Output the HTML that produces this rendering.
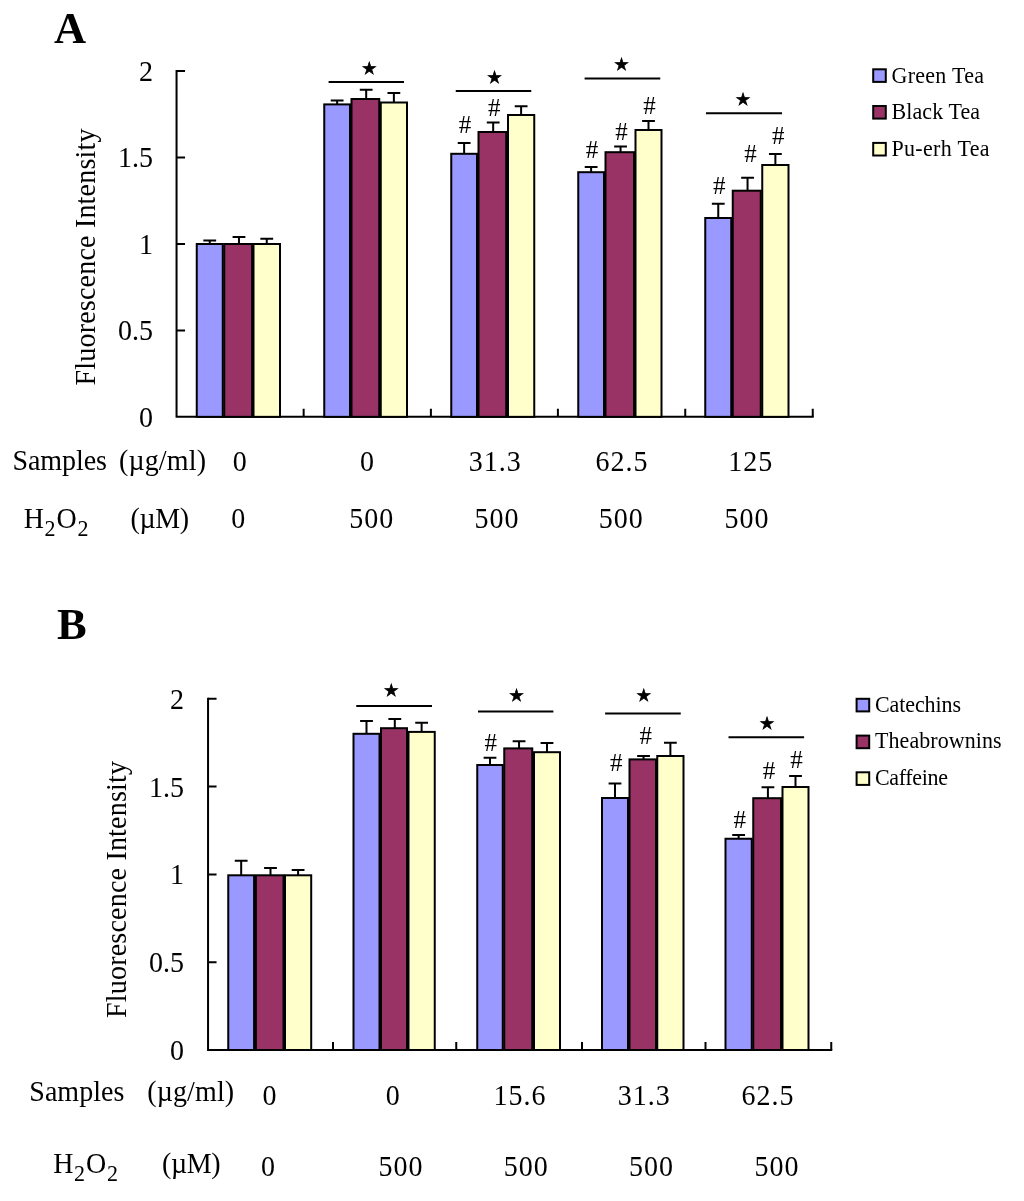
<!DOCTYPE html>
<html lang="en"><head><meta charset="utf-8"><title>Figure</title>
<style>
html,body{margin:0;padding:0;background:#fff}
svg{display:block}
text{font-family:'Liberation Serif', serif;fill:#000}
.t28{font-size:28px}
.t22{font-size:22px}
.num{letter-spacing:1px}
.sub{font-size:22px}
.big{font-size:44.5px;font-weight:bold}
.star{font-family:'DejaVu Sans',sans-serif;font-size:16.8px;text-anchor:middle;stroke:#000;stroke-width:.7}
.hash{font-size:25px;text-anchor:middle}
.ln{fill:none;stroke:#000;stroke-width:2}
.bar{stroke:#000;stroke-width:2}
</style></head><body>
<svg width="1024" height="1201" viewBox="0 0 1024 1201">
<rect width="1024" height="1201" fill="#fff"/>
<g class="ln">
<path d="M176.55 70V417.85M175.55 416.85H813.75"/>
<path d="M176.55 71h8.5M176.55 157.46h8.5M176.55 243.93h8.5M176.55 330.39h8.5M303.65 416.85v-8M430.9 416.85v-8M557.9 416.85v-8M685.25 416.85v-8M812.75 416.85v-8"/>
</g>
<path class="ln" d="M209.75 244V240.6M203.35 240.6h12.8"/>
<path class="ln" d="M238.98 244V236.9M232.58 236.9h12.8"/>
<path class="ln" d="M266.75 244V238.75M260.35 238.75h12.8"/>
<rect class="bar" x="196.75" y="244" width="26" height="172.85" fill="#9999ff"/>
<rect class="bar" x="224.25" y="244" width="27.85" height="172.85" fill="#993366"/>
<rect class="bar" x="253.5" y="244" width="26.5" height="172.85" fill="#ffffcc"/>
<path class="ln" d="M337.12 104.4V100.6M330.73 100.6h12.8"/>
<path class="ln" d="M366.18 99V89.7M359.78 89.7h12.8"/>
<path class="ln" d="M393.88 102.5V93.1M387.48 93.1h12.8"/>
<rect class="bar" x="324.25" y="104.4" width="25.75" height="312.45" fill="#9999ff"/>
<rect class="bar" x="351.5" y="99" width="27.75" height="317.85" fill="#993366"/>
<rect class="bar" x="380.75" y="102.5" width="26.25" height="314.35" fill="#ffffcc"/>
<path class="ln" d="M464.12 153.8V142.9M457.73 142.9h12.8"/>
<path class="ln" d="M493.18 132V122.5M486.78 122.5h12.8"/>
<path class="ln" d="M521.12 115V106.2M514.73 106.2h12.8"/>
<rect class="bar" x="451.25" y="153.8" width="25.75" height="263.05" fill="#9999ff"/>
<rect class="bar" x="478.5" y="132" width="27.75" height="284.85" fill="#993366"/>
<rect class="bar" x="508" y="115" width="26.25" height="301.85" fill="#ffffcc"/>
<path class="ln" d="M591.12 172.2V166.9M584.73 166.9h12.8"/>
<path class="ln" d="M620.55 152.2V146.6M614.15 146.6h12.8"/>
<path class="ln" d="M648.5 130V120.9M642.1 120.9h12.8"/>
<rect class="bar" x="578.25" y="172.2" width="25.75" height="244.65" fill="#9999ff"/>
<rect class="bar" x="605.5" y="152.2" width="28.5" height="264.65" fill="#993366"/>
<rect class="bar" x="635.5" y="130" width="26" height="286.85" fill="#ffffcc"/>
<path class="ln" d="M718.25 218V203.7M711.85 203.7h12.8"/>
<path class="ln" d="M747.55 190.7V177.8M741.15 177.8h12.8"/>
<path class="ln" d="M775.38 165V154M768.98 154h12.8"/>
<rect class="bar" x="705.25" y="218" width="26" height="198.85" fill="#9999ff"/>
<rect class="bar" x="732.75" y="190.7" width="28" height="226.15" fill="#993366"/>
<rect class="bar" x="762.25" y="165" width="26.25" height="251.85" fill="#ffffcc"/>
<path class="ln" d="M328.6 82H404"/>
<path class="ln" d="M455.75 91.1H531.25"/>
<path class="ln" d="M584.6 78.6H660.25"/>
<path class="ln" d="M706 113.3H782"/>
<text class="star" x="369.25" y="73.7">★</text>
<text class="star" x="494.4" y="82.9">★</text>
<text class="star" x="621.6" y="69.8">★</text>
<text class="star" x="743.1" y="104.8">★</text>
<text class="hash" x="465" y="132.5">#</text>
<text class="hash" x="494.25" y="115.9">#</text>
<text class="hash" x="592" y="158.4">#</text>
<text class="hash" x="621.5" y="139.75">#</text>
<text class="hash" x="649.4" y="114.25">#</text>
<text class="hash" x="719.3" y="193.5">#</text>
<text class="hash" x="750.4" y="162.25">#</text>
<text class="hash" x="778.25" y="143.6">#</text>
<text class="t28" text-anchor="end" transform="translate(153 81) scale(1 1.05)">2</text>
<text class="t28" text-anchor="end" transform="translate(153 167.46) scale(1 1.05)">1.5</text>
<text class="t28" text-anchor="end" transform="translate(153 253.93) scale(1 1.05)">1</text>
<text class="t28" text-anchor="end" transform="translate(153 340.39) scale(1 1.05)">0.5</text>
<text class="t28" text-anchor="end" transform="translate(153 426.85) scale(1 1.05)">0</text>
<text class="t28" transform="translate(94.5 385.5) rotate(-90) scale(1 1.06)" textLength="257" lengthAdjust="spacing">Fluorescence Intensity</text>
<text class="big" x="54" y="43">A</text>
<rect class="bar" x="873.2" y="69.3" width="12.6" height="12.6" fill="#9999ff"/>
<text class="t22" transform="translate(891.5 82.6) scale(1 1.08)" textLength="92.5" lengthAdjust="spacing">Green Tea</text>
<rect class="bar" x="873.2" y="106" width="12.6" height="12.6" fill="#993366"/>
<text class="t22" transform="translate(891.5 119) scale(1 1.08)" textLength="88.5" lengthAdjust="spacing">Black Tea</text>
<rect class="bar" x="873.2" y="142.9" width="12.6" height="12.6" fill="#ffffcc"/>
<text class="t22" transform="translate(891.5 156.2) scale(1 1.08)" textLength="98" lengthAdjust="spacing">Pu-erh Tea</text>
<text class="t28" transform="translate(12.5 470) scale(1 1.05)" textLength="94.5" lengthAdjust="spacing">Samples</text>
<text class="t28" transform="translate(119 470) scale(1 1.05)" textLength="87" lengthAdjust="spacing">(µg/ml)</text>
<text class="t28" text-anchor="middle" transform="translate(239.8 471) scale(1 1.05)">0</text>
<text class="t28" text-anchor="middle" transform="translate(366.9 471) scale(1 1.05)">0</text>
<text class="t28 num" text-anchor="middle" transform="translate(495.3 471) scale(1 1.05)">31.3</text>
<text class="t28 num" text-anchor="middle" transform="translate(622 471) scale(1 1.05)">62.5</text>
<text class="t28 num" text-anchor="middle" transform="translate(750.75 471) scale(1 1.05)">125</text>
<text class="t28" transform="translate(23.8 528.3) scale(1 1.05)">H</text><text class="sub" transform="translate(44.4 536.1) scale(1 1.05)">2</text><text class="t28" transform="translate(56.4 528.3) scale(1 1.05)">O</text><text class="sub" transform="translate(77.4 536.1) scale(1 1.05)">2</text>
<text class="t28" transform="translate(130.5 527.7) scale(1 1.05)" textLength="58.5" lengthAdjust="spacing">(µM)</text>
<text class="t28" text-anchor="middle" transform="translate(238.3 528) scale(1 1.05)">0</text>
<text class="t28 num" text-anchor="middle" transform="translate(371.7 528) scale(1 1.05)">500</text>
<text class="t28 num" text-anchor="middle" transform="translate(496.9 528) scale(1 1.05)">500</text>
<text class="t28 num" text-anchor="middle" transform="translate(621.2 528) scale(1 1.05)">500</text>
<text class="t28 num" text-anchor="middle" transform="translate(746.9 528) scale(1 1.05)">500</text>
<g class="ln">
<path d="M208.05 697.75V1051M207.05 1050H832.25"/>
<path d="M208.05 698.75h8.5M208.05 786.56h8.5M208.05 874.38h8.5M208.05 962.19h8.5M333 1050v-8M456.25 1050v-8M582 1050v-8M705.5 1050v-8M831.25 1050v-8"/>
</g>
<path class="ln" d="M241.18 875.3V860.7M234.78 860.7h12.8"/>
<path class="ln" d="M270.5 875.3V868M264.1 868h12.8"/>
<path class="ln" d="M298.1 875.3V870M291.7 870h12.8"/>
<rect class="bar" x="228.25" y="875.3" width="25.85" height="174.7" fill="#9999ff"/>
<rect class="bar" x="255.9" y="875.3" width="27.6" height="174.7" fill="#993366"/>
<rect class="bar" x="285" y="875.3" width="26.2" height="174.7" fill="#ffffcc"/>
<path class="ln" d="M366.5 733.8V720.9M360.1 720.9h12.8"/>
<path class="ln" d="M394.8 728.2V719M388.4 719h12.8"/>
<path class="ln" d="M421.62 731.9V722.8M415.23 722.8h12.8"/>
<rect class="bar" x="353.5" y="733.8" width="26" height="316.2" fill="#9999ff"/>
<rect class="bar" x="381" y="728.2" width="26" height="321.8" fill="#993366"/>
<rect class="bar" x="408.5" y="731.9" width="26.25" height="318.1" fill="#ffffcc"/>
<path class="ln" d="M490 765V757.8M483.6 757.8h12.8"/>
<path class="ln" d="M519.05 748.4V741.2M512.65 741.2h12.8"/>
<path class="ln" d="M547 752.2V743M540.6 743h12.8"/>
<rect class="bar" x="477.25" y="765" width="25.5" height="285" fill="#9999ff"/>
<rect class="bar" x="504.25" y="748.4" width="28" height="301.6" fill="#993366"/>
<rect class="bar" x="534" y="752.2" width="26" height="297.8" fill="#ffffcc"/>
<path class="ln" d="M615 798V783.4M608.6 783.4h12.8"/>
<path class="ln" d="M643.55 759.4V756M637.15 756h12.8"/>
<path class="ln" d="M670.38 756V742.8M663.98 742.8h12.8"/>
<rect class="bar" x="602" y="798" width="26" height="252" fill="#9999ff"/>
<rect class="bar" x="629.5" y="759.4" width="26.5" height="290.6" fill="#993366"/>
<rect class="bar" x="657.25" y="756" width="26.25" height="294" fill="#ffffcc"/>
<path class="ln" d="M738.62 838.75V835M732.23 835h12.8"/>
<path class="ln" d="M767.92 798.2V787.2M761.52 787.2h12.8"/>
<path class="ln" d="M795.5 787V776M789.1 776h12.8"/>
<rect class="bar" x="725.5" y="838.75" width="26.25" height="211.25" fill="#9999ff"/>
<rect class="bar" x="753.25" y="798.2" width="27.75" height="251.8" fill="#993366"/>
<rect class="bar" x="782.5" y="787" width="26" height="263" fill="#ffffcc"/>
<path class="ln" d="M356.25 706H432"/>
<path class="ln" d="M478 711.5H553.4"/>
<path class="ln" d="M605.1 713.4H680.75"/>
<path class="ln" d="M728.5 737.2H804.1"/>
<text class="star" x="391.3" y="695.8">★</text>
<text class="star" x="516.5" y="701.3">★</text>
<text class="star" x="643.7" y="701.3">★</text>
<text class="star" x="767.1" y="728.8">★</text>
<text class="hash" x="490.75" y="750.9">#</text>
<text class="hash" x="616.25" y="771.4">#</text>
<text class="hash" x="645.75" y="743.6">#</text>
<text class="hash" x="739.75" y="828.4">#</text>
<text class="hash" x="769" y="778.5">#</text>
<text class="hash" x="796.6" y="767.5">#</text>
<text class="t28" text-anchor="end" transform="translate(184 708.75) scale(1 1.05)">2</text>
<text class="t28" text-anchor="end" transform="translate(184 796.56) scale(1 1.05)">1.5</text>
<text class="t28" text-anchor="end" transform="translate(184 884.38) scale(1 1.05)">1</text>
<text class="t28" text-anchor="end" transform="translate(184 972.19) scale(1 1.05)">0.5</text>
<text class="t28" text-anchor="end" transform="translate(184 1060) scale(1 1.05)">0</text>
<text class="t28" transform="translate(126 1018) rotate(-90) scale(1 1.06)" textLength="257" lengthAdjust="spacing">Fluorescence Intensity</text>
<text class="big" x="57" y="638.5">B</text>
<rect class="bar" x="856.6" y="698.8" width="12.6" height="12.6" fill="#9999ff"/>
<text class="t22" transform="translate(875 711.5) scale(1 1.08)" textLength="86" lengthAdjust="spacing">Catechins</text>
<rect class="bar" x="856.6" y="735.6" width="12.6" height="12.6" fill="#993366"/>
<text class="t22" transform="translate(875 748.4) scale(1 1.08)" textLength="126.5" lengthAdjust="spacing">Theabrownins</text>
<rect class="bar" x="856.6" y="772.3" width="12.6" height="12.6" fill="#ffffcc"/>
<text class="t22" transform="translate(875 785.4) scale(1 1.08)" textLength="73" lengthAdjust="spacing">Caffeine</text>
<text class="t28" transform="translate(29.3 1101) scale(1 1.05)" textLength="95" lengthAdjust="spacing">Samples</text>
<text class="t28" transform="translate(147.2 1101) scale(1 1.05)" textLength="87" lengthAdjust="spacing">(µg/ml)</text>
<text class="t28" text-anchor="middle" transform="translate(269.5 1104.5) scale(1 1.05)">0</text>
<text class="t28" text-anchor="middle" transform="translate(392.8 1104.5) scale(1 1.05)">0</text>
<text class="t28 num" text-anchor="middle" transform="translate(520.1 1104.5) scale(1 1.05)">15.6</text>
<text class="t28 num" text-anchor="middle" transform="translate(644.2 1104.5) scale(1 1.05)">31.3</text>
<text class="t28 num" text-anchor="middle" transform="translate(767.9 1104.5) scale(1 1.05)">62.5</text>
<text class="t28" transform="translate(53.3 1173) scale(1 1.05)">H</text><text class="sub" transform="translate(73.9 1180.8) scale(1 1.05)">2</text><text class="t28" transform="translate(85.9 1173) scale(1 1.05)">O</text><text class="sub" transform="translate(106.9 1180.8) scale(1 1.05)">2</text>
<text class="t28" transform="translate(162 1172.8) scale(1 1.05)" textLength="58.5" lengthAdjust="spacing">(µM)</text>
<text class="t28" text-anchor="middle" transform="translate(267.9 1176) scale(1 1.05)">0</text>
<text class="t28 num" text-anchor="middle" transform="translate(401 1176) scale(1 1.05)">500</text>
<text class="t28 num" text-anchor="middle" transform="translate(526.2 1176) scale(1 1.05)">500</text>
<text class="t28 num" text-anchor="middle" transform="translate(651.4 1176) scale(1 1.05)">500</text>
<text class="t28 num" text-anchor="middle" transform="translate(777.1 1176) scale(1 1.05)">500</text>
</svg>
</body></html>
